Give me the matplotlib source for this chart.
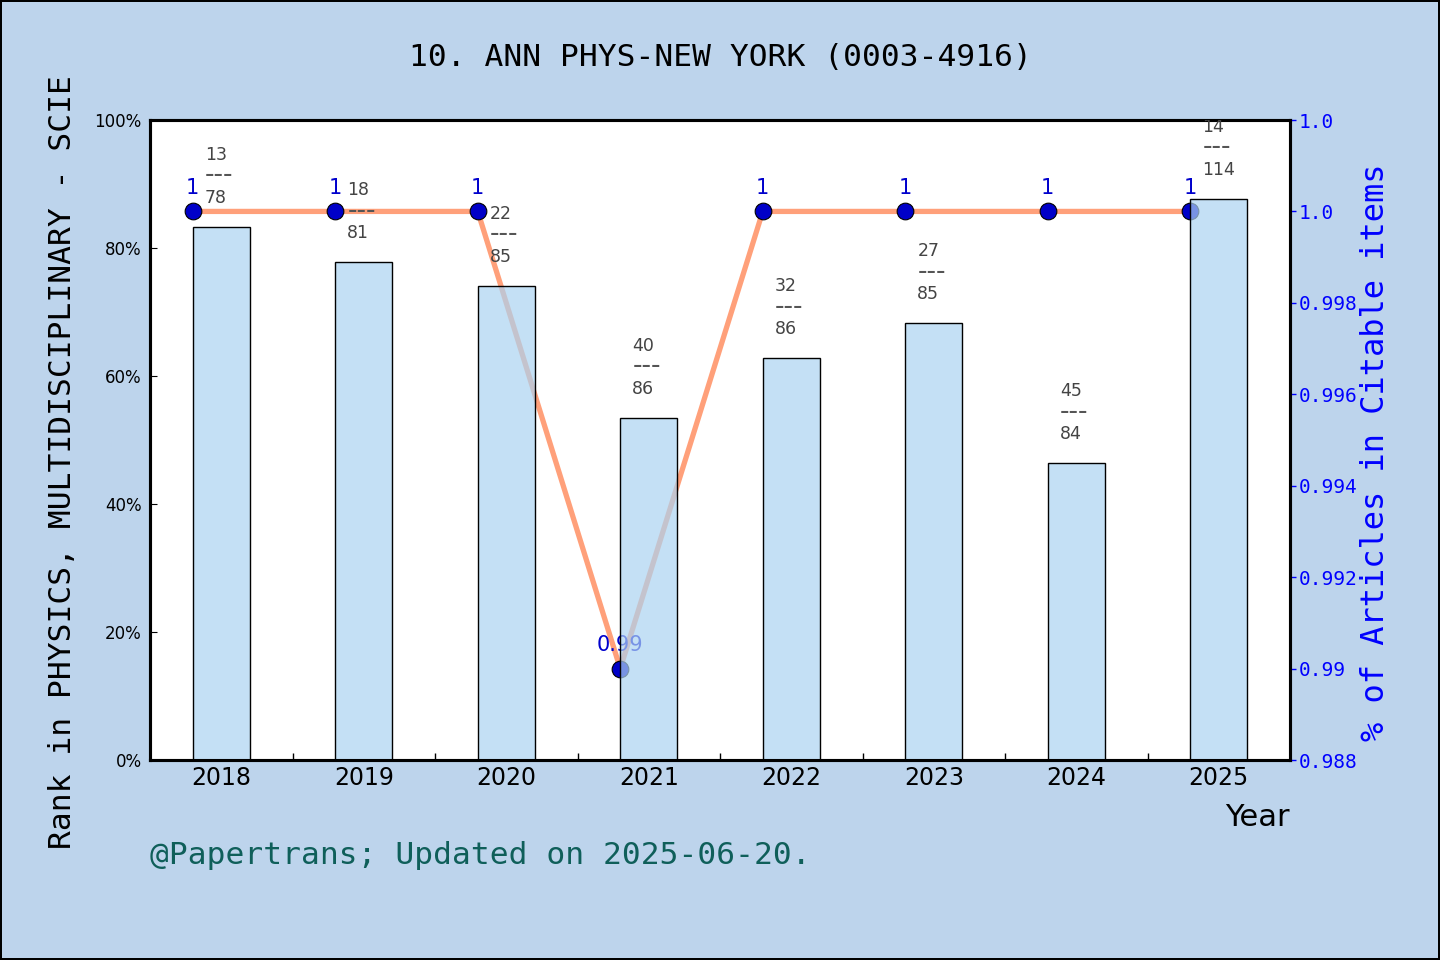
import numpy as np
import matplotlib
matplotlib.use("Agg")
import matplotlib.pyplot as plt
from matplotlib.ticker import FixedLocator, FixedFormatter

years = ['2018', '2019', '2020', '2021', '2022', '2023', '2024', '2025']
rank = [13, 18, 22, 40, 32, 27, 45, 14]
total = [78, 81, 85, 86, 86, 85, 84, 114]
citable = [1, 1, 1, 0.99, 1, 1, 1, 1]
citable_labels = ['1', '1', '1', '0.99', '1', '1', '1', '1']
right_ticks = [0.988, 0.990, 0.992, 0.994, 0.996, 0.998, 1.000, 1.002]
right_tick_labels = ['0.988', '0.99', '0.992', '0.994', '0.996', '0.998', '1.0', '1.0']

bg = '#BDD4EC'
x = np.arange(len(years))
pct = [1 - r / t for r, t in zip(rank, total)]

fig = plt.figure(figsize=(14.4, 9.6), dpi=100)
fig.patch.set_facecolor(bg)
fig.patch.set_edgecolor('black')
fig.patch.set_linewidth(1.5)

ax = fig.add_axes([150/1440, 1-760/960, 1140/1440, 640/960])
ax2 = ax.twinx()
# bars drawn on top of the line axis
ax.set_zorder(ax2.get_zorder() + 1)
ax.patch.set_visible(False)
ax2.patch.set_visible(True)
ax2.patch.set_facecolor('white')

# line (% of citable items)
ax2.plot(x, citable, color='#FFA07A', lw=3.8, zorder=2)
ax2.plot(x, citable, 'o', color='#0000C8', mec='black', mew=0.8, ms=12, zorder=3)
for xi, v, s in zip(x, citable, citable_labels):
    ax2.annotate(s, (xi, v), xytext=(0, 17), textcoords='offset points',
                 ha='center', va='center', color='#0000CC', fontsize=15)
ax2.set_ylim(0.988, 1.002)
ax2.yaxis.set_major_locator(FixedLocator(right_ticks))
ax2.yaxis.set_major_formatter(FixedFormatter(right_tick_labels))
ax2.tick_params(axis='y', colors='blue', direction='out', length=4, width=1,
                labelsize=14, pad=2)
for lab in ax2.get_yticklabels():
    lab.set_family('DejaVu Sans Mono')

# bars (rank percentile)
ax.bar(x, pct, width=0.4, align='edge', color=(172/255, 211/255, 241/255, 0.7),
       edgecolor='black', linewidth=1, zorder=2)
for xi, p, r, t in zip(x, pct, rank, total):
    pos = (xi + 0.085, p + 0.08)
    ax.annotate(str(r), pos, xytext=(0, 15), textcoords='offset points', ha='left',
                va='center', fontsize=12.5, color='#444444', annotation_clip=False,
                clip_on=True, zorder=4)
    ax.annotate('---', pos, xytext=(0, 0), textcoords='offset points', ha='left',
                va='center', fontsize=19, color='#555555', annotation_clip=False,
                clip_on=True, zorder=4)
    ax.annotate(str(t), pos, xytext=(0, -16), textcoords='offset points', ha='left',
                va='center', fontsize=12.5, color='#444444', annotation_clip=False,
                clip_on=True, zorder=4)

ax.set_xlim(-0.3, 7.7)
ax.set_ylim(0, 1)
ax.set_yticks(np.arange(0, 1.01, 0.2))
ax.set_yticklabels(['%d%%' % v for v in range(0, 101, 20)])
ax.tick_params(axis='y', direction='in', length=5, labelsize=12, pad=6)
ax.set_xticks(x + 0.2)
ax.set_xticklabels(years)
ax.tick_params(axis='x', length=0, labelsize=17, pad=4)
ax.set_xticks(np.arange(0.7, 7.0, 1.0), minor=True)
ax.tick_params(axis='x', which='minor', direction='in', length=5, width=1)

for a in (ax, ax2):
    for sp in a.spines.values():
        sp.set_linewidth(2.2)
        sp.set_color('black')

fig.text(0.5, 1-57/960, '10. ANN PHYS-NEW YORK (0003-4916)', ha='center', va='center',
         fontsize=22.5, family='DejaVu Sans Mono')
fig.text(63/1440, 1-462/960, 'Rank in PHYSICS, MULTIDISCIPLINARY - SCIE', rotation=90,
         ha='center', va='center', fontsize=22.5, family='DejaVu Sans Mono')
fig.text(1375/1440, 1-452/960, '% of Articles in Citable items', rotation=90,
         ha='center', va='center', fontsize=23, family='DejaVu Sans Mono', color='blue')
fig.text(1290/1440, 1-817/960, 'Year', ha='right', va='center', fontsize=22)
fig.text(150/1440, 1-855/960, '@Papertrans; Updated on 2025-06-20.', ha='left', va='center',
         fontsize=22.5, family='DejaVu Sans Mono', color='#0F5F5A')

fig.savefig('out.png', dpi=100, facecolor=fig.get_facecolor(), edgecolor=fig.get_edgecolor())
